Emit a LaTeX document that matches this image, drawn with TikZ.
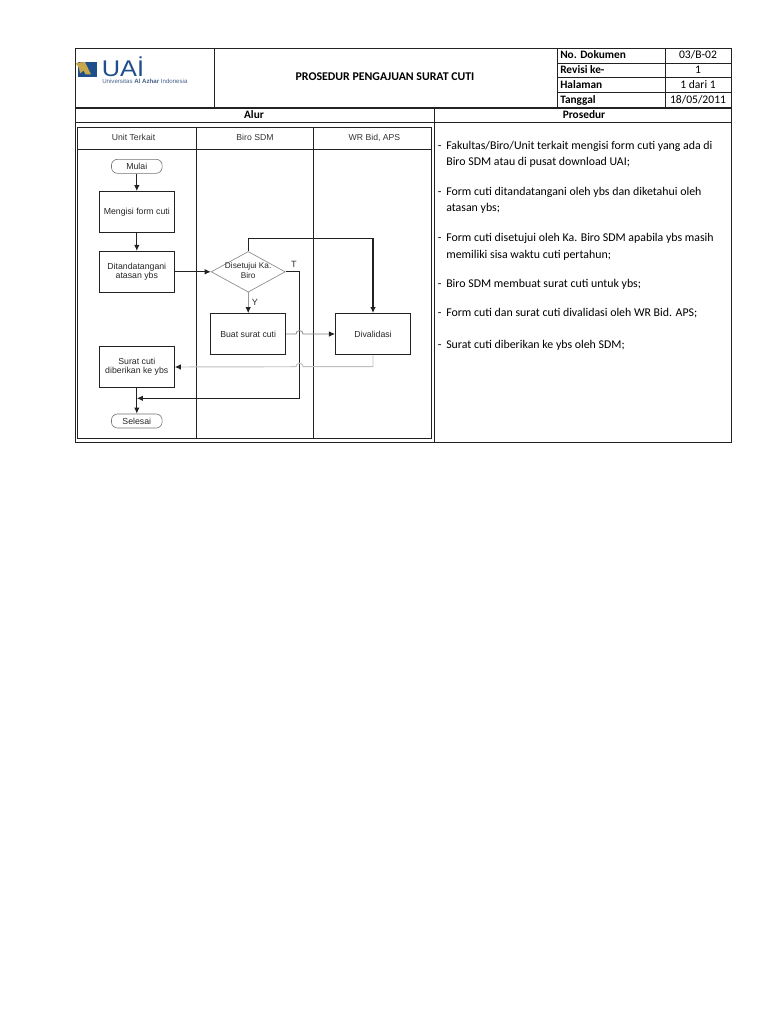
\documentclass[tikz,border=0pt]{standalone}
\usepackage{fontspec}
\usetikzlibrary{arrows.meta,shapes.geometric}
\setmainfont{Carlito}
\newfontfamily\flowfont{Liberation Sans}
\definecolor{ink}{HTML}{222222}
\definecolor{uaiblue}{HTML}{1F4E8C}
\definecolor{uaigold}{HTML}{C9A84C}
\newcommand{\dashmark}{\makebox[6.4pt][l]{-}}
\newcommand{\dashgap}{\hspace*{6.4pt}}
\tikzset{
  x=0.75pt,y=-0.75pt,
  frame/.style={draw=ink,line width=0.75pt},
  thickframe/.style={draw=ink,line width=1.1pt},
  hdr/.style={font=\fontsize{8.5}{10}\selectfont\bfseries,text=black,inner sep=0pt},
  cell/.style={font=\fontsize{8.7}{10}\selectfont,text=black,inner sep=0pt},
  lane/.style={font=\flowfont\fontsize{6.5}{7.5}\selectfont,text=black!80,inner sep=0pt},
  proc/.style={draw=ink,line width=0.8pt,minimum width=56.25pt,minimum height=30.5pt,inner sep=0pt,align=center,font=\flowfont\fontsize{6.55}{7.1}\selectfont,text=black!85},
  term/.style={draw=black!55,line width=0.45pt,rounded corners=4.5pt,minimum width=38pt,minimum height=10.5pt,inner sep=0pt,font=\flowfont\fontsize{6.55}{7.1}\selectfont,text=black!85},
  dec/.style={diamond,draw=black!45,line width=0.5pt,minimum width=55.5pt,minimum height=30.5pt,aspect=1.85,inner sep=0pt},
  dectext/.style={inner sep=0pt,align=center,font=\flowfont\fontsize{6.2}{7.1}\selectfont,text=black!85},
  conn/.style={draw=ink,line width=0.85pt,-{Latex[length=4.6pt,width=4.2pt]}},
  connp/.style={draw=ink,line width=0.85pt},
  grey/.style={draw=black!25,line width=0.7pt},
  midg/.style={draw=black!50,line width=0.55pt},
  steptext/.style={font=\fontsize{8.9}{12.4}\selectfont,text=black,anchor=base west,inner sep=0pt,align=left}
}
\begin{document}
\begin{tikzpicture}
\useasboundingbox (0,0) rectangle (768,1024);
\fill[white] (0,0) rectangle (768,1024);
% outer table
\draw[frame] (75,48.3) rectangle (731.5,442.3);
\draw[frame] (214.5,48.3) -- (214.5,107.8);
\draw[frame] (557.3,48.3) -- (557.3,107.8);
\draw[thickframe] (75,107.8) -- (731.5,107.8);
\draw[frame] (75,122.8) -- (731.5,122.8);
\draw[frame] (434,107.8) -- (434,442.3);
\draw[frame] (665,48.3) -- (665,107.8);
\draw[frame] (557.3,63.3) -- (731.5,63.3);
\draw[frame] (557.3,78) -- (731.5,78);
\draw[frame] (557.3,92.6) -- (731.5,92.6);
\node[hdr,font=\fontsize{8.9}{10}\selectfont\bfseries,anchor=base] (title) at (385,80.5) {PROSEDUR PENGAJUAN SURAT CUTI};
\node[hdr,anchor=base west] (k1) at (560,59) {No. Dokumen};
\node[hdr,anchor=base west] (k2) at (560,74) {Revisi ke-};
\node[hdr,anchor=base west] (k3) at (560,88.8) {Halaman};
\node[hdr,anchor=base west] (k4) at (560,103.3) {Tanggal};
\node[cell,anchor=base] (v1) at (698,59) {03/B-02};
\node[cell,anchor=base] (v2) at (698,74) {1};
\node[cell,anchor=base] (v3) at (698,88.8) {1 dari 1};
\node[cell,anchor=base] (v4) at (698,103.3) {18/05/2011};
\node[hdr,anchor=base] (alur) at (254,118.5) {Alur};
\node[hdr,anchor=base] (pros) at (584,118.5) {Prosedur};
% logo
\fill[uaiblue] (77.5,61.7) rectangle (97.3,76.7);
\fill[uaigold] (75.5,63) -- (85,62) -- (91,74.5) -- (85.5,74.5) -- (83.5,70.5) -- (80,73.5) -- (79,68) -- cycle;
\node[inner sep=0pt,anchor=base west,text=uaiblue,xscale=1.12,transform shape,font=\flowfont\fontsize{17}{18}\selectfont] (uai) at (101.5,76.2) {UAİ};
\node[inner sep=0pt,anchor=base west,text=uaiblue!60!gray,font=\flowfont\fontsize{4.6}{5}\selectfont] (uaisub) at (102,83.3) {Universitas \textbf{Al Azhar} Indonesia};
% swimlanes
\draw[frame] (77.5,127.8) rectangle (431.5,438.3);
\draw[frame] (77.5,149.3) -- (431.5,149.3);
\draw[frame] (196,127.8) -- (196,438.3);
\draw[frame] (313.7,127.8) -- (313.7,438.3);
\node[lane,anchor=base] (l1) at (133.5,140) {Unit Terkait};
\node[lane,anchor=base] (l2) at (255,140) {Biro SDM};
\node[lane,anchor=base] (l3) at (374.5,140) {WR Bid, APS};
% flow nodes
\node[term] (mulai) at (136.8,166.3) {Mulai};
\node[proc] (isi) at (136.8,212) {Mengisi form cuti};
\node[proc] (ttd) at (136.8,271.8) {Ditandatangani\\atasan ybs};
\node[dec] (dec) at (248.2,271.8) {};
\node[dectext] (dect) at (248.2,270.5) {Disetujui Ka.\\Biro};
\node[proc] (buat) at (248.2,334) {Buat surat cuti};
\node[proc] (val) at (373,334) {Divalidasi};
\node[proc] (surat) at (136.8,367) {Surat cuti\\diberikan ke ybs};
\node[term] (selesai) at (136.8,421) {Selesai};
\coordinate (j1) at (136.8,398.3);
\coordinate (a) at (248.2,238.3);
\coordinate (b) at (373,238.3);
\coordinate (c) at (299.5,271.8);
\coordinate (d) at (299.5,398.3);
\coordinate (e) at (373,366.7);
\node[lane,anchor=base,font=\flowfont\fontsize{6.8}{7.5}\selectfont] (t) at (294,267) {T};
\node[lane,anchor=base,font=\flowfont\fontsize{6.8}{7.5}\selectfont] (y) at (255,305) {Y};
% connectors
\draw[conn] (mulai) -- (isi);
\draw[conn] (isi) -- (ttd);
\draw[conn] (ttd) -- (dec);
\draw[draw=black!40,line width=0.7pt,-{Latex[length=4.6pt,width=4.2pt,color=ink]}] (dec) -- (buat);
\draw[connp] (dec.north) -- (a) -- (b);
\draw[conn] (b) -- (val);
\draw[connp] (dec.east) -- (c) -- (d);
\draw[conn] (d) -- (j1);
\draw[conn] (surat) -- (selesai);
\draw[midg,-{Latex[length=4.6pt,width=4.2pt,color=ink]}] (buat.east) -- (296,334) arc[start angle=180,end angle=360,radius=3.5] -- (val.west);
\draw[grey,-{Latex[length=4.6pt,width=4.2pt,color=ink]}] (val.south) -- (e) -- (303,366.7) arc[start angle=0,end angle=-180,radius=3.5] -- (surat.east);
% procedure text
\node[steptext] (p1) at (437.5,165.7) {\dashmark Fakultas/Biro/Unit terkait mengisi form cuti yang ada di\\\dashgap Biro SDM atau di pusat download UAI;};
\node[steptext] (p2) at (437.5,211.7) {\dashmark Form cuti ditandatangani oleh ybs dan diketahui oleh\\\dashgap atasan ybs;};
\node[steptext] (p3) at (437.5,258.3) {\dashmark Form cuti disetujui oleh Ka. Biro SDM apabila ybs masih\\\dashgap memiliki sisa waktu cuti pertahun;};
\node[steptext] (p4) at (437.5,287.7) {\dashmark Biro SDM membuat surat cuti untuk ybs;};
\node[steptext] (p5) at (437.5,316.7) {\dashmark Form cuti dan surat cuti divalidasi oleh WR Bid. APS;};
\node[steptext] (p6) at (437.5,348.3) {\dashmark Surat cuti diberikan ke ybs oleh SDM;};
\end{tikzpicture}
\end{document}
